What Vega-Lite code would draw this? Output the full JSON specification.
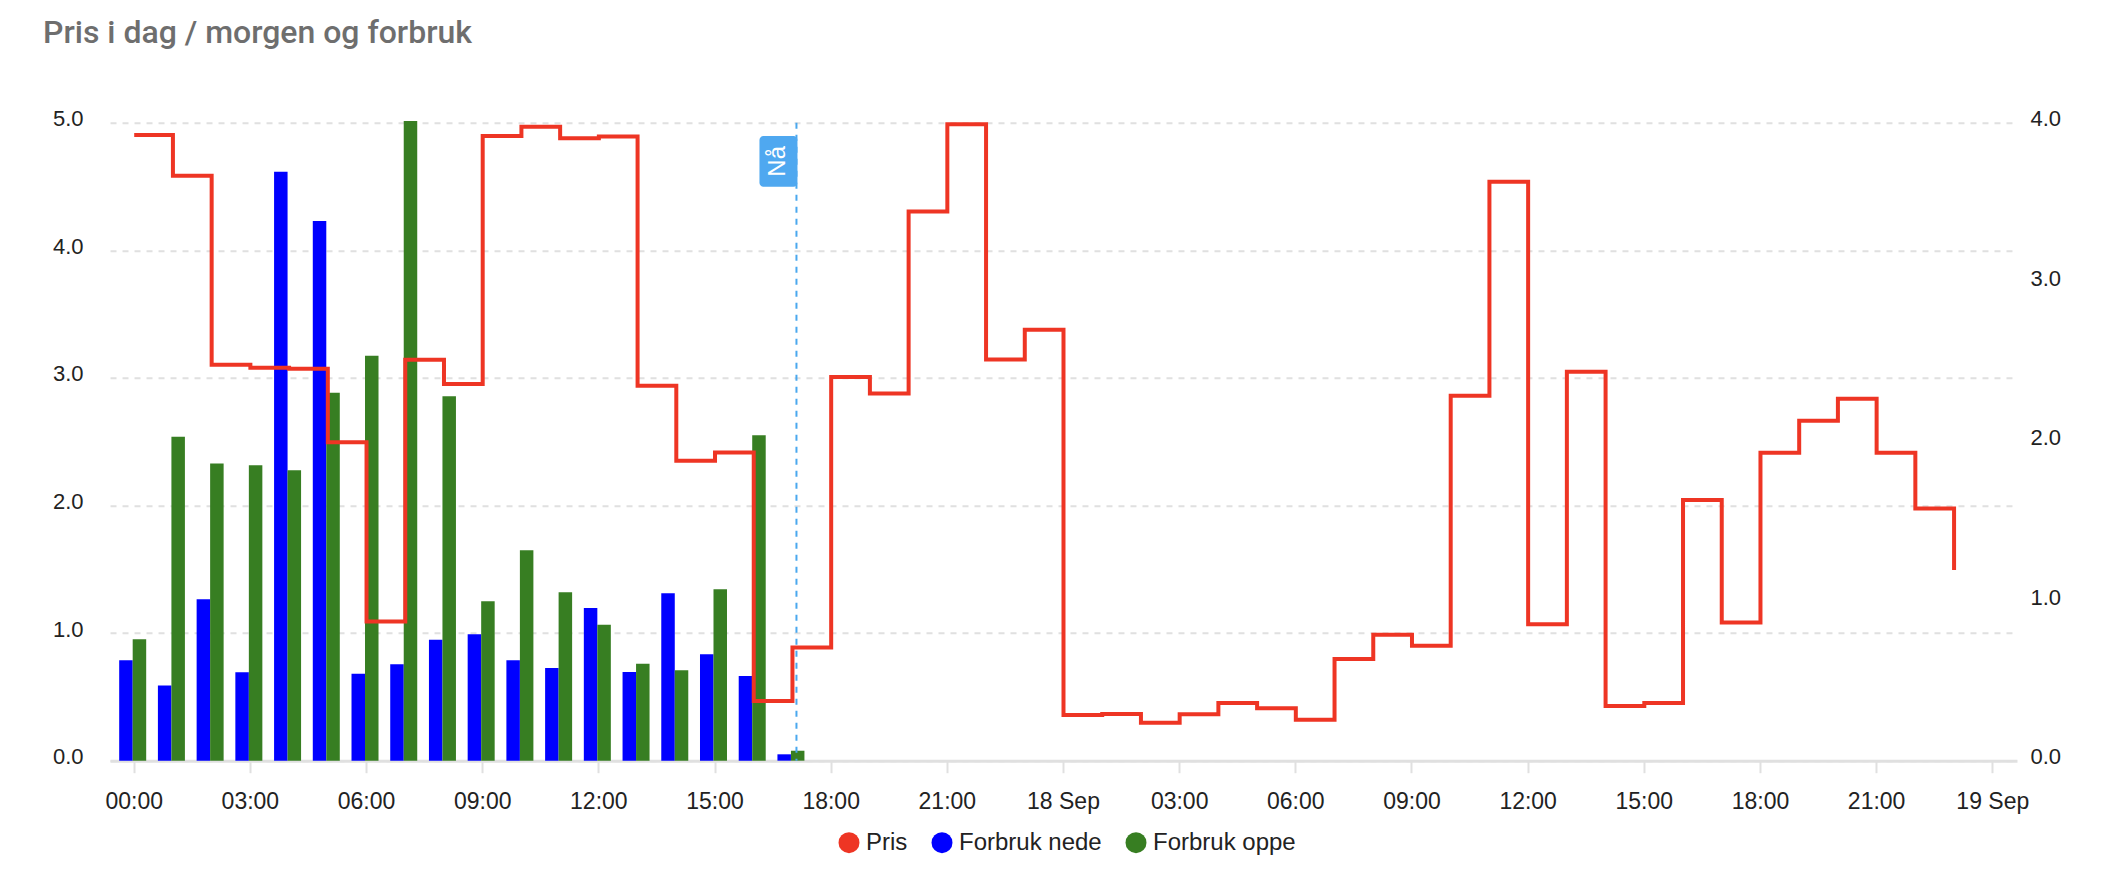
{
  "$schema": "https://vega.github.io/schema/vega-lite/v6.json",
  "width": 1907,
  "height": 638,
  "autosize": "none",
  "padding": {"left": 110, "top": 122.7, "right": 105, "bottom": 133},
  "background": "white",
  "title": {
    "text": "Pris i dag / morgen og forbruk",
    "anchor": "start",
    "frame": "group",
    "dx": -67,
    "offset": 58,
    "font": "Roboto",
    "fontSize": 32,
    "fontWeight": 500,
    "color": "#6e6e6e"
  },
  "datasets": {
    "pris": [
      {"t": "09-17 00:00", "pris": 3.923}, {"t": "09-17 01:00", "pris": 3.668}, {"t": "09-17 02:00", "pris": 2.482},
      {"t": "09-17 03:00", "pris": 2.464}, {"t": "09-17 04:00", "pris": 2.457}, {"t": "09-17 05:00", "pris": 1.997},
      {"t": "09-17 06:00", "pris": 0.872}, {"t": "09-17 07:00", "pris": 2.514}, {"t": "09-17 08:00", "pris": 2.361},
      {"t": "09-17 09:00", "pris": 3.917}, {"t": "09-17 10:00", "pris": 3.974}, {"t": "09-17 11:00", "pris": 3.902},
      {"t": "09-17 12:00", "pris": 3.913}, {"t": "09-17 13:00", "pris": 2.351}, {"t": "09-17 14:00", "pris": 1.88},
      {"t": "09-17 15:00", "pris": 1.932}, {"t": "09-17 16:00", "pris": 0.375}, {"t": "09-17 17:00", "pris": 0.709},
      {"t": "09-17 18:00", "pris": 2.405}, {"t": "09-17 19:00", "pris": 2.302}, {"t": "09-17 20:00", "pris": 3.444},
      {"t": "09-17 21:00", "pris": 3.99}, {"t": "09-17 22:00", "pris": 2.516}, {"t": "09-17 23:00", "pris": 2.702},
      {"t": "09-18 00:00", "pris": 0.287}, {"t": "09-18 01:00", "pris": 0.293}, {"t": "09-18 02:00", "pris": 0.238},
      {"t": "09-18 03:00", "pris": 0.291}, {"t": "09-18 04:00", "pris": 0.362}, {"t": "09-18 05:00", "pris": 0.329},
      {"t": "09-18 06:00", "pris": 0.257}, {"t": "09-18 07:00", "pris": 0.638}, {"t": "09-18 08:00", "pris": 0.789},
      {"t": "09-18 09:00", "pris": 0.72}, {"t": "09-18 10:00", "pris": 2.288}, {"t": "09-18 11:00", "pris": 3.629},
      {"t": "09-18 12:00", "pris": 0.856}, {"t": "09-18 13:00", "pris": 2.438}, {"t": "09-18 14:00", "pris": 0.343},
      {"t": "09-18 15:00", "pris": 0.362}, {"t": "09-18 16:00", "pris": 1.634}, {"t": "09-18 17:00", "pris": 0.866},
      {"t": "09-18 18:00", "pris": 1.93}, {"t": "09-18 19:00", "pris": 2.131}, {"t": "09-18 20:00", "pris": 2.269},
      {"t": "09-18 21:00", "pris": 1.93}, {"t": "09-18 22:00", "pris": 1.581}, {"t": "09-18 23:00", "pris": 1.195}
    ],
    "forbruk": [
      {"t": "09-17 00:00", "serie": "Forbruk nede", "kwh": 0.787}, {"t": "09-17 00:00", "serie": "Forbruk oppe", "kwh": 0.951},
      {"t": "09-17 01:00", "serie": "Forbruk nede", "kwh": 0.59}, {"t": "09-17 01:00", "serie": "Forbruk oppe", "kwh": 2.539},
      {"t": "09-17 02:00", "serie": "Forbruk nede", "kwh": 1.265}, {"t": "09-17 02:00", "serie": "Forbruk oppe", "kwh": 2.33},
      {"t": "09-17 03:00", "serie": "Forbruk nede", "kwh": 0.693}, {"t": "09-17 03:00", "serie": "Forbruk oppe", "kwh": 2.315},
      {"t": "09-17 04:00", "serie": "Forbruk nede", "kwh": 4.616}, {"t": "09-17 04:00", "serie": "Forbruk oppe", "kwh": 2.276},
      {"t": "09-17 05:00", "serie": "Forbruk nede", "kwh": 4.23}, {"t": "09-17 05:00", "serie": "Forbruk oppe", "kwh": 2.884},
      {"t": "09-17 06:00", "serie": "Forbruk nede", "kwh": 0.682}, {"t": "09-17 06:00", "serie": "Forbruk oppe", "kwh": 3.174},
      {"t": "09-17 07:00", "serie": "Forbruk nede", "kwh": 0.755}, {"t": "09-17 07:00", "serie": "Forbruk oppe", "kwh": 5.013},
      {"t": "09-17 08:00", "serie": "Forbruk nede", "kwh": 0.948}, {"t": "09-17 08:00", "serie": "Forbruk oppe", "kwh": 2.856},
      {"t": "09-17 09:00", "serie": "Forbruk nede", "kwh": 0.99}, {"t": "09-17 09:00", "serie": "Forbruk oppe", "kwh": 1.249},
      {"t": "09-17 10:00", "serie": "Forbruk nede", "kwh": 0.787}, {"t": "09-17 10:00", "serie": "Forbruk oppe", "kwh": 1.649},
      {"t": "09-17 11:00", "serie": "Forbruk nede", "kwh": 0.726}, {"t": "09-17 11:00", "serie": "Forbruk oppe", "kwh": 1.32},
      {"t": "09-17 12:00", "serie": "Forbruk nede", "kwh": 1.197}, {"t": "09-17 12:00", "serie": "Forbruk oppe", "kwh": 1.066},
      {"t": "09-17 13:00", "serie": "Forbruk nede", "kwh": 0.695}, {"t": "09-17 13:00", "serie": "Forbruk oppe", "kwh": 0.76},
      {"t": "09-17 14:00", "serie": "Forbruk nede", "kwh": 1.312}, {"t": "09-17 14:00", "serie": "Forbruk oppe", "kwh": 0.708},
      {"t": "09-17 15:00", "serie": "Forbruk nede", "kwh": 0.834}, {"t": "09-17 15:00", "serie": "Forbruk oppe", "kwh": 1.343},
      {"t": "09-17 16:00", "serie": "Forbruk nede", "kwh": 0.664}, {"t": "09-17 16:00", "serie": "Forbruk oppe", "kwh": 2.55},
      {"t": "09-17 17:00", "serie": "Forbruk nede", "kwh": 0.05}, {"t": "09-17 17:00", "serie": "Forbruk oppe", "kwh": 0.078}
    ],
    "naa": [{"t": "09-17 17:00", "topp": 4.896, "bunn": 4.498, "midt": 4.697, "tekst": "Nå"}]
  },
  "encoding": {
    "x": {
      "field": "t",
      "type": "ordinal",
      "title": null,
      "scale": {
        "paddingInner": 0,
        "paddingOuter": 0.125,
        "domain": [
          "09-17 00:00", "09-17 01:00", "09-17 02:00", "09-17 03:00", "09-17 04:00", "09-17 05:00", "09-17 06:00", "09-17 07:00",
          "09-17 08:00", "09-17 09:00", "09-17 10:00", "09-17 11:00", "09-17 12:00", "09-17 13:00", "09-17 14:00", "09-17 15:00",
          "09-17 16:00", "09-17 17:00", "09-17 18:00", "09-17 19:00", "09-17 20:00", "09-17 21:00", "09-17 22:00", "09-17 23:00",
          "09-18 00:00", "09-18 01:00", "09-18 02:00", "09-18 03:00", "09-18 04:00", "09-18 05:00", "09-18 06:00", "09-18 07:00",
          "09-18 08:00", "09-18 09:00", "09-18 10:00", "09-18 11:00", "09-18 12:00", "09-18 13:00", "09-18 14:00", "09-18 15:00",
          "09-18 16:00", "09-18 17:00", "09-18 18:00", "09-18 19:00", "09-18 20:00", "09-18 21:00", "09-18 22:00", "09-18 23:00",
          "09-19 00:00"
        ]
      },
      "axis": {
        "values": [
          "09-17 00:00", "09-17 03:00", "09-17 06:00", "09-17 09:00", "09-17 12:00", "09-17 15:00", "09-17 18:00", "09-17 21:00",
          "09-18 00:00", "09-18 03:00", "09-18 06:00", "09-18 09:00", "09-18 12:00", "09-18 15:00", "09-18 18:00", "09-18 21:00",
          "09-19 00:00"
        ],
        "labelExpr": "datum.value == '09-18 00:00' ? '18 Sep' : datum.value == '09-19 00:00' ? '19 Sep' : slice(datum.value, 6)",
        "labelAngle": 0,
        "labelOverlap": false,
        "labelFont": "Liberation Sans",
        "labelFontSize": 23,
        "labelColor": "#222222",
        "labelPadding": 18,
        "domainColor": "#e0e0e0",
        "domainWidth": 3,
        "tickColor": "#e0e0e0",
        "tickWidth": 2,
        "tickSize": 12,
        "grid": false
      }
    }
  },
  "layer": [
    {
      "layer": [
        {
          "data": {"name": "forbruk"},
          "mark": {"type": "bar"},
          "encoding": {
            "xOffset": {
              "field": "serie",
              "type": "nominal",
              "sort": ["Forbruk nede", "Forbruk oppe"],
              "scale": {"paddingInner": 0, "paddingOuter": 0.434, "align": 0.37}
            },
            "y": {
              "field": "kwh",
              "type": "quantitative",
              "title": null,
              "scale": {"domain": [0, 5], "nice": false},
              "axis": {
                "orient": "left",
                "values": [0, 1, 2, 3, 4, 5],
                "format": ".1f",
                "domain": false,
                "ticks": false,
                "labelFont": "Liberation Sans",
                "labelFontSize": 22,
                "labelColor": "#222222",
                "labelPadding": 27,
                "labelOffset": -4,
                "grid": true,
                "gridColor": "#e0e0e0",
                "gridWidth": 2,
                "gridDash": [6, 6]
              }
            },
            "color": {
              "field": "serie",
              "type": "nominal",
              "scale": {
                "domain": ["Pris", "Forbruk nede", "Forbruk oppe"],
                "range": ["#ee3524", "#0000ff", "#377e22"]
              },
              "legend": {
                "orient": "none",
                "direction": "horizontal",
                "title": null,
                "legendX": 727,
                "legendY": 708,
                "symbolType": "circle",
                "symbolSize": 440,
                "symbolStrokeWidth": 0,
                "labelFont": "Liberation Sans",
                "labelFontSize": 24,
                "labelColor": "#222222",
                "labelOffset": 5,
                "columnPadding": 22
              }
            }
          }
        },
        {
          "data": {"name": "naa"},
          "mark": {"type": "rule", "color": "#4aa8ee", "strokeWidth": 2, "strokeDash": [6, 6], "xOffset": 4},
          "encoding": {}
        },
        {
          "data": {"name": "naa"},
          "mark": {"type": "bar", "color": "#4fa8f0", "width": 38, "xOffset": -14, "cornerRadius": 4},
          "encoding": {
            "y": {"field": "topp", "type": "quantitative"},
            "y2": {"field": "bunn"}
          }
        },
        {
          "data": {"name": "naa"},
          "mark": {"type": "text", "color": "white", "angle": 270, "font": "Liberation Sans", "fontSize": 24, "xOffset": -14},
          "encoding": {
            "y": {"field": "midt", "type": "quantitative"},
            "text": {"field": "tekst"}
          }
        }
      ]
    },
    {
      "data": {"name": "pris"},
      "mark": {"type": "line", "interpolate": "step-after", "strokeWidth": 4, "strokeJoin": "miter"},
      "encoding": {
        "y": {
          "field": "pris",
          "type": "quantitative",
          "title": null,
          "scale": {"domain": [0, 4], "nice": false},
          "axis": {
            "orient": "right",
            "values": [0, 1, 2, 3, 4],
            "format": ".1f",
            "domain": false,
            "ticks": false,
            "grid": false,
            "labelFont": "Liberation Sans",
            "labelFontSize": 22,
            "labelColor": "#222222",
            "labelPadding": 13,
            "labelOffset": -4
          }
        },
        "color": {"datum": "Pris"}
      }
    }
  ],
  "resolve": {"scale": {"y": "independent"}},
  "config": {"view": {"stroke": null}}
}
